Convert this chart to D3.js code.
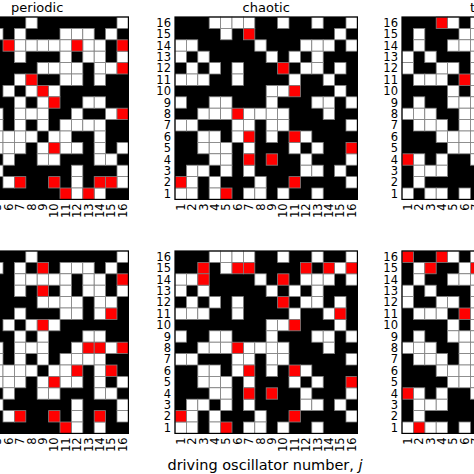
<!DOCTYPE html>
<html>
<head>
<meta charset="utf-8">
<script src="https://cdn.jsdelivr.net/npm/d3@7"></script>
<style>
  body { margin: 0; background: #fff; }
  text { font-family: "DejaVu Sans", sans-serif; }
</style>
</head>
<body>
<script>
// oscillator indices
var nodes = d3.range(1, 17);

// titles of the three columns
var titles = ["periodic", "chaotic", "transient"];

// white (link) cells, rows listed from 16 down to 1, each a list of columns
var periodicLinks = [
  [8,16], [5,7,11,12,13,15], [7,8,9,10,11,13,14], [7,11,13,14,16],
  [9,10,11,12,14,15], [7,11,12,14], [6,8,10], [7,9,13,14],
  [5,7,8,9,12,15], [5,7,9,11,12,13,14], [5,6,7,8,10,11,14], [5,6,7,9,11,12,14,16],
  [6,9,10,14,15], [5,12,16], [6,12,16], [12,14]
];
var chaoticLinks = [
  [4,5,6,7,10,13,16], [5,15], [1,2,8,12,13,14,16], [1,3,9,11,13],
  [2,4,6,12,13,15], [1,2,3,6,11,14], [9,10,15], [1,4,5,9,13,14,16],
  [3,4,5,7,8,9,10,14], [1,2,6,7,9,10,16], [3,4,6,9,12], [3,4,5,7,11,13],
  [4,5,12,16], [2,3,5,7,12,13,15], [2,4,8,16], [1,2,4,7,8,10,13]
];
var transientLinks = [
  [5,7], [2,6,7], [2,5,6,7], [1,3,7], [1,4,5,7], [2,3,4,7], [5,7], [2,5,6,7],
  [1,2,3,6,7], [2,3,4,6,7], [4,5,6,7], [5,6,7], [2,4,7], [2,3,4], [2], [1,3,4,6]
];

// red (highlighted) cells as [row, column]
var periodicRedTop = [[14,6],[14,12],[14,16],[12,16],[11,8],[10,9],[9,10],[8,16],[5,10],[2,7],[2,10],[2,14],[2,15],[1,11],[1,13]];
var periodicRedBottom = [[15,9],[14,16],[13,9],[11,15],[10,9],[8,13],[8,14],[8,16],[6,12],[6,15],[5,10],[2,7],[2,10],[2,14],[1,11]];
var chaoticRedTop = [[15,7],[12,10],[10,11],[8,6],[6,7],[6,11],[5,16],[4,7],[4,9],[2,1],[2,11],[1,5]];
var chaoticRedBottom = [[15,3],[15,6],[15,7],[15,12],[15,14],[15,16],[14,3],[14,10],[12,10],[11,15],[10,11],[8,6],[6,7],[6,11],[5,16],[4,7],[4,9],[2,1],[2,11],[1,5]];
var transientRedTop = [[16,4],[11,6],[4,1]];
var transientRedBottom = [[16,1],[16,4],[15,3],[15,7],[11,6],[4,1],[1,2]];

var W = 474, H = 474;
var cell = 11.4;
var gridSize = cell * 16;
var colX = [-54, 175, 402];
var rowY = [17, 251];

var svg = d3.select("body").append("svg")
  .attr("width", W)
  .attr("height", H);

var links = [periodicLinks, chaoticLinks, transientLinks];
var reds = [[periodicRedTop, periodicRedBottom], [chaoticRedTop, chaoticRedBottom], [transientRedTop, transientRedBottom]];

function panel(ci, ri) {
  var x = d3.scaleBand().domain(nodes).range([0, gridSize]);
  var y = d3.scaleBand().domain(nodes.slice().reverse()).range([0, gridSize]);

  var g = svg.append("g")
    .attr("transform", "translate(" + colX[ci] + "," + rowY[ri] + ")");

  g.append("rect")
    .attr("width", gridSize).attr("height", gridSize)
    .attr("fill", "#000");

  // flatten link rows into cells
  var cells = [];
  links[ci].forEach(function(cols, k) {
    cols.forEach(function(c) { cells.push([16 - k, c]); });
  });

  g.selectAll(".w").data(cells).enter().append("rect")
    .attr("class", "w")
    .attr("x", function(d) { return x(d[1]); })
    .attr("y", function(d) { return y(d[0]); })
    .attr("width", x.bandwidth()).attr("height", y.bandwidth())
    .attr("fill", "#fff").attr("stroke", "#808080").attr("stroke-width", 0.8);

  g.selectAll(".r").data(reds[ci][ri]).enter().append("rect")
    .attr("class", "r")
    .attr("x", function(d) { return x(d[1]); })
    .attr("y", function(d) { return y(d[0]); })
    .attr("width", x.bandwidth()).attr("height", y.bandwidth())
    .attr("fill", "#f00").attr("stroke", "#808080").attr("stroke-width", 0.8);

  g.append("rect")
    .attr("width", gridSize).attr("height", gridSize)
    .attr("fill", "none").attr("stroke", "#000").attr("stroke-width", 1.2);

  //left labels
  g.selectAll(".yl").data(nodes).enter().append("text")
    .attr("x", -4)
    .attr("y", function(d) { return y(d) + y.bandwidth() / 2; })
    .attr("dy", "0.35em")
    .attr("text-anchor", "end")
    .attr("font-size", 11.5)
    .text(function(d) { return d; });

  //bottom labels, rotated
  g.selectAll(".xl").data(nodes).enter().append("text")
    .attr("transform", function(d) {
      return "translate(" + (x(d) + x.bandwidth() / 2) + "," + (gridSize + 4) + ") rotate(-90)";
    })
    .attr("dy", "0.35em")
    .attr("text-anchor", "end")
    .attr("font-size", 11.5)
    .text(function(d) { return d; });

  if (ri === 0) {
    g.append("text")
      .attr("x", gridSize / 2 + (ci === 2 ? 6 : 0)).attr("y", -5)
      .attr("text-anchor", "middle")
      .attr("font-size", 13)
      .text(titles[ci]);
  }
}

[0, 1, 2].forEach(function(ci) {
  panel(ci, 0);
  panel(ci, 1);
});

var xl = svg.append("text")
  .attr("x", 265).attr("y", 470)
  .attr("text-anchor", "middle")
  .attr("font-size", 14.5);
xl.append("tspan").text("driving oscillator number, ");
xl.append("tspan").attr("font-style", "italic").text("j");
</script>
</body>
</html>
